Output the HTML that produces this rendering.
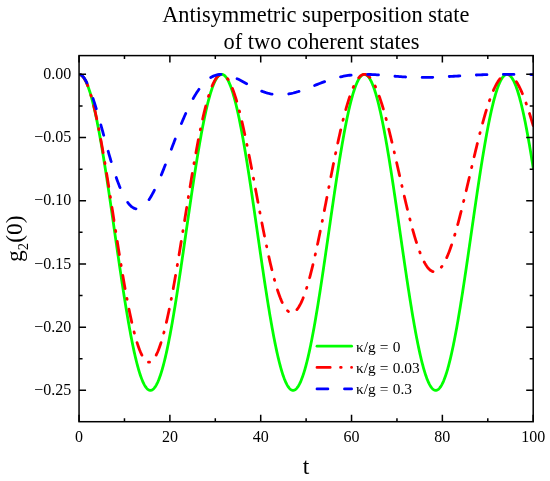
<!DOCTYPE html>
<html><head><meta charset="utf-8"><title>Antisymmetric superposition state of two coherent states</title>
<style>html,body{margin:0;padding:0;background:#fff;}body{width:550px;height:481px;overflow:hidden;}svg{display:block;}</style>
</head><body>
<svg width="550" height="481" viewBox="0 0 550 481" font-family="'Liberation Serif', 'Times New Roman', serif" fill="#000"><clipPath id="c"><rect x="79.05" y="55.6" width="454.15" height="366.10"/></clipPath>
<g clip-path="url(#c)" fill="none" stroke-width="2.8" stroke-linejoin="round" stroke-linecap="round">
<polyline stroke="#00ff00" points="79.05,74.35 79.43,74.37 79.81,74.44 80.19,74.55 80.56,74.70 80.94,74.90 81.32,75.14 81.70,75.42 82.08,75.75 82.46,76.12 82.83,76.54 83.21,77.00 83.59,77.50 83.97,78.04 84.35,78.63 84.73,79.26 85.11,79.93 85.48,80.65 85.86,81.41 86.24,82.21 86.62,83.05 87.00,83.93 87.38,84.85 87.75,85.82 88.13,86.82 88.51,87.87 88.89,88.95 89.27,90.08 89.65,91.24 90.03,92.45 90.40,93.69 90.78,94.97 91.16,96.29 91.54,97.65 91.92,99.05 92.30,100.48 92.67,101.95 93.05,103.45 93.43,104.99 93.81,106.57 94.19,108.18 94.57,109.83 94.95,111.50 95.32,113.22 95.70,114.96 96.08,116.74 96.46,118.55 96.84,120.40 97.22,122.27 97.59,124.17 97.97,126.11 98.35,128.07 98.73,130.07 99.11,132.09 99.49,134.14 99.87,136.21 100.24,138.31 100.62,140.44 101.00,142.60 101.38,144.78 101.76,146.98 102.14,149.21 102.51,151.46 102.89,153.73 103.27,156.03 103.65,158.35 104.03,160.68 104.41,163.04 104.79,165.41 105.16,167.81 105.54,170.22 105.92,172.65 106.30,175.10 106.68,177.56 107.06,180.04 107.43,182.53 107.81,185.03 108.19,187.55 108.57,190.09 108.95,192.63 109.33,195.18 109.71,197.75 110.08,200.32 110.46,202.90 110.84,205.50 111.22,208.09 111.60,210.70 111.98,213.31 112.35,215.93 112.73,218.55 113.11,221.17 113.49,223.80 113.87,226.43 114.25,229.06 114.63,231.70 115.00,234.33 115.38,236.96 115.76,239.59 116.14,242.22 116.52,244.85 116.90,247.47 117.27,250.09 117.65,252.71 118.03,255.32 118.41,257.92 118.79,260.51 119.17,263.10 119.55,265.68 119.92,268.25 120.30,270.81 120.68,273.36 121.06,275.89 121.44,278.42 121.82,280.93 122.19,283.43 122.57,285.91 122.95,288.38 123.33,290.84 123.71,293.28 124.09,295.70 124.47,298.10 124.84,300.49 125.22,302.85 125.60,305.20 125.98,307.53 126.36,309.83 126.74,312.12 127.11,314.38 127.49,316.62 127.87,318.83 128.25,321.02 128.63,323.19 129.01,325.33 129.38,327.45 129.76,329.54 130.14,331.60 130.52,333.64 130.90,335.64 131.28,337.62 131.66,339.57 132.03,341.49 132.41,343.38 132.79,345.24 133.17,347.06 133.55,348.86 133.93,350.62 134.30,352.35 134.68,354.05 135.06,355.71 135.44,357.34 135.82,358.93 136.20,360.49 136.58,362.01 136.95,363.50 137.33,364.95 137.71,366.36 138.09,367.74 138.47,369.08 138.85,370.38 139.22,371.64 139.60,372.86 139.98,374.05 140.36,375.19 140.74,376.30 141.12,377.36 141.50,378.39 141.87,379.37 142.25,380.32 142.63,381.22 143.01,382.08 143.39,382.90 143.77,383.68 144.14,384.42 144.52,385.11 144.90,385.76 145.28,386.37 145.66,386.94 146.04,387.46 146.42,387.94 146.79,388.38 147.17,388.77 147.55,389.12 147.93,389.43 148.31,389.69 148.69,389.91 149.06,390.08 149.44,390.21 149.82,390.30 150.20,390.34 150.58,390.34 150.96,390.30 151.34,390.21 151.71,390.08 152.09,389.90 152.47,389.69 152.85,389.42 153.23,389.12 153.61,388.77 153.98,388.37 154.36,387.93 154.74,387.45 155.12,386.93 155.50,386.36 155.88,385.76 156.26,385.10 156.63,384.41 157.01,383.67 157.39,382.90 157.77,382.08 158.15,381.21 158.53,380.31 158.90,379.37 159.28,378.38 159.66,377.36 160.04,376.29 160.42,375.18 160.80,374.04 161.18,372.85 161.55,371.63 161.93,370.37 162.31,369.07 162.69,367.73 163.07,366.35 163.45,364.94 163.82,363.49 164.20,362.00 164.58,360.48 164.96,358.92 165.34,357.32 165.72,355.69 166.10,354.03 166.47,352.34 166.85,350.61 167.23,348.84 167.61,347.05 167.99,345.22 168.37,343.36 168.74,341.47 169.12,339.55 169.50,337.60 169.88,335.63 170.26,333.62 170.64,331.58 171.02,329.52 171.39,327.43 171.77,325.31 172.15,323.17 172.53,321.00 172.91,318.81 173.29,316.60 173.66,314.36 174.04,312.10 174.42,309.81 174.80,307.51 175.18,305.18 175.56,302.83 175.94,300.47 176.31,298.08 176.69,295.68 177.07,293.26 177.45,290.82 177.83,288.36 178.21,285.89 178.58,283.41 178.96,280.91 179.34,278.40 179.72,275.87 180.10,273.33 180.48,270.78 180.86,268.23 181.23,265.66 181.61,263.08 181.99,260.49 182.37,257.89 182.75,255.29 183.13,252.68 183.50,250.07 183.88,247.45 184.26,244.83 184.64,242.20 185.02,239.57 185.40,236.94 185.78,234.31 186.15,231.67 186.53,229.04 186.91,226.41 187.29,223.78 187.67,221.15 188.05,218.53 188.42,215.90 188.80,213.29 189.18,210.68 189.56,208.07 189.94,205.47 190.32,202.88 190.70,200.30 191.07,197.72 191.45,195.16 191.83,192.61 192.21,190.06 192.59,187.53 192.97,185.01 193.34,182.51 193.72,180.02 194.10,177.54 194.48,175.08 194.86,172.63 195.24,170.20 195.62,167.79 195.99,165.39 196.37,163.02 196.75,160.66 197.13,158.32 197.51,156.01 197.89,153.71 198.26,151.44 198.64,149.19 199.02,146.96 199.40,144.76 199.78,142.58 200.16,140.43 200.54,138.30 200.91,136.19 201.29,134.12 201.67,132.07 202.05,130.05 202.43,128.06 202.81,126.09 203.18,124.16 203.56,122.25 203.94,120.38 204.32,118.54 204.70,116.73 205.08,114.95 205.46,113.20 205.83,111.49 206.21,109.81 206.59,108.17 206.97,106.55 207.35,104.98 207.73,103.44 208.10,101.93 208.48,100.47 208.86,99.03 209.24,97.64 209.62,96.28 210.00,94.96 210.38,93.68 210.75,92.44 211.13,91.23 211.51,90.07 211.89,88.94 212.27,87.86 212.65,86.81 213.02,85.81 213.40,84.84 213.78,83.92 214.16,83.04 214.54,82.20 214.92,81.40 215.30,80.64 215.67,79.93 216.05,79.26 216.43,78.63 216.81,78.04 217.19,77.49 217.57,76.99 217.94,76.54 218.32,76.12 218.70,75.75 219.08,75.42 219.46,75.14 219.84,74.90 220.21,74.70 220.59,74.55 220.97,74.44 221.35,74.37 221.73,74.35 222.11,74.37 222.49,74.44 222.86,74.55 223.24,74.70 223.62,74.90 224.00,75.14 224.38,75.43 224.76,75.76 225.13,76.13 225.51,76.54 225.89,77.00 226.27,77.50 226.65,78.05 227.03,78.64 227.41,79.27 227.78,79.94 228.16,80.66 228.54,81.41 228.92,82.21 229.30,83.05 229.68,83.94 230.05,84.86 230.43,85.83 230.81,86.83 231.19,87.88 231.57,88.96 231.95,90.09 232.33,91.25 232.70,92.46 233.08,93.70 233.46,94.99 233.84,96.31 234.22,97.66 234.60,99.06 234.97,100.49 235.35,101.96 235.73,103.47 236.11,105.01 236.49,106.58 236.87,108.19 237.25,109.84 237.62,111.52 238.00,113.23 238.38,114.98 238.76,116.76 239.14,118.57 239.52,120.41 239.89,122.29 240.27,124.19 240.65,126.13 241.03,128.09 241.41,130.08 241.79,132.10 242.17,134.15 242.54,136.23 242.92,138.33 243.30,140.46 243.68,142.62 244.06,144.80 244.44,147.00 244.81,149.23 245.19,151.48 245.57,153.75 245.95,156.05 246.33,158.37 246.71,160.70 247.09,163.06 247.46,165.44 247.84,167.83 248.22,170.24 248.60,172.67 248.98,175.12 249.36,177.58 249.73,180.06 250.11,182.55 250.49,185.06 250.87,187.58 251.25,190.11 251.63,192.65 252.01,195.21 252.38,197.77 252.76,200.34 253.14,202.93 253.52,205.52 253.90,208.12 254.28,210.72 254.65,213.33 255.03,215.95 255.41,218.57 255.79,221.20 256.17,223.83 256.55,226.46 256.93,229.09 257.30,231.72 257.68,234.35 258.06,236.99 258.44,239.62 258.82,242.25 259.20,244.87 259.57,247.50 259.95,250.12 260.33,252.73 260.71,255.34 261.09,257.94 261.47,260.54 261.85,263.12 262.22,265.70 262.60,268.27 262.98,270.83 263.36,273.38 263.74,275.92 264.12,278.44 264.49,280.95 264.87,283.45 265.25,285.94 265.63,288.41 266.01,290.86 266.39,293.30 266.77,295.72 267.14,298.12 267.52,300.51 267.90,302.87 268.28,305.22 268.66,307.55 269.04,309.85 269.41,312.14 269.79,314.40 270.17,316.64 270.55,318.85 270.93,321.04 271.31,323.21 271.69,325.35 272.06,327.47 272.44,329.56 272.82,331.62 273.20,333.65 273.58,335.66 273.96,337.64 274.33,339.59 274.71,341.51 275.09,343.40 275.47,345.25 275.85,347.08 276.23,348.87 276.61,350.64 276.98,352.37 277.36,354.06 277.74,355.72 278.12,357.35 278.50,358.94 278.88,360.50 279.25,362.03 279.63,363.51 280.01,364.96 280.39,366.37 280.77,367.75 281.15,369.09 281.53,370.39 281.90,371.65 282.28,372.87 282.66,374.06 283.04,375.20 283.42,376.31 283.80,377.37 284.17,378.40 284.55,379.38 284.93,380.33 285.31,381.23 285.69,382.09 286.07,382.91 286.45,383.69 286.82,384.42 287.20,385.12 287.58,385.77 287.96,386.38 288.34,386.94 288.72,387.46 289.09,387.94 289.47,388.38 289.85,388.77 290.23,389.12 290.61,389.43 290.99,389.69 291.37,389.91 291.74,390.08 292.12,390.21 292.50,390.30 292.88,390.34 293.26,390.34 293.64,390.30 294.01,390.21 294.39,390.08 294.77,389.90 295.15,389.68 295.53,389.42 295.91,389.11 296.29,388.76 296.66,388.37 297.04,387.93 297.42,387.45 297.80,386.93 298.18,386.36 298.56,385.75 298.93,385.10 299.31,384.40 299.69,383.67 300.07,382.89 300.45,382.07 300.83,381.21 301.21,380.30 301.58,379.36 301.96,378.37 302.34,377.35 302.72,376.28 303.10,375.17 303.48,374.03 303.85,372.84 304.23,371.62 304.61,370.35 304.99,369.05 305.37,367.71 305.75,366.34 306.12,364.92 306.50,363.47 306.88,361.99 307.26,360.46 307.64,358.90 308.02,357.31 308.40,355.68 308.77,354.02 309.15,352.32 309.53,350.59 309.91,348.83 310.29,347.03 310.67,345.20 311.04,343.35 311.42,341.46 311.80,339.54 312.18,337.59 312.56,335.61 312.94,333.60 313.32,331.57 313.69,329.50 314.07,327.41 314.45,325.30 314.83,323.15 315.21,320.99 315.59,318.79 315.96,316.58 316.34,314.34 316.72,312.08 317.10,309.79 317.48,307.48 317.86,305.16 318.24,302.81 318.61,300.44 318.99,298.06 319.37,295.65 319.75,293.23 320.13,290.80 320.51,288.34 320.88,285.87 321.26,283.39 321.64,280.89 322.02,278.37 322.40,275.85 322.78,273.31 323.16,270.76 323.53,268.20 323.91,265.63 324.29,263.05 324.67,260.47 325.05,257.87 325.43,255.27 325.80,252.66 326.18,250.05 326.56,247.43 326.94,244.80 327.32,242.18 327.70,239.55 328.08,236.92 328.45,234.28 328.83,231.65 329.21,229.02 329.59,226.39 329.97,223.75 330.35,221.13 330.72,218.50 331.10,215.88 331.48,213.26 331.86,210.65 332.24,208.05 332.62,205.45 333.00,202.86 333.37,200.28 333.75,197.70 334.13,195.14 334.51,192.58 334.89,190.04 335.27,187.51 335.64,184.99 336.02,182.48 336.40,179.99 336.78,177.52 337.16,175.05 337.54,172.61 337.92,170.18 338.29,167.77 338.67,165.37 339.05,163.00 339.43,160.64 339.81,158.30 340.19,155.99 340.56,153.69 340.94,151.42 341.32,149.17 341.70,146.94 342.08,144.74 342.46,142.56 342.84,140.41 343.21,138.28 343.59,136.17 343.97,134.10 344.35,132.05 344.73,130.03 345.11,128.04 345.48,126.07 345.86,124.14 346.24,122.24 346.62,120.36 347.00,118.52 347.38,116.71 347.76,114.93 348.13,113.19 348.51,111.47 348.89,109.80 349.27,108.15 349.65,106.54 350.03,104.96 350.40,103.42 350.78,101.92 351.16,100.45 351.54,99.02 351.92,97.63 352.30,96.27 352.68,94.95 353.05,93.67 353.43,92.43 353.81,91.22 354.19,90.06 354.57,88.93 354.95,87.85 355.32,86.80 355.70,85.80 356.08,84.84 356.46,83.91 356.84,83.03 357.22,82.19 357.60,81.39 357.97,80.64 358.35,79.92 358.73,79.25 359.11,78.62 359.49,78.03 359.87,77.49 360.24,76.99 360.62,76.53 361.00,76.12 361.38,75.75 361.76,75.42 362.14,75.13 362.52,74.89 362.89,74.70 363.27,74.55 363.65,74.44 364.03,74.37 364.41,74.35 364.79,74.37 365.16,74.44 365.54,74.55 365.92,74.70 366.30,74.90 366.68,75.14 367.06,75.43 367.44,75.76 367.81,76.13 368.19,76.55 368.57,77.01 368.95,77.51 369.33,78.05 369.71,78.64 370.08,79.27 370.46,79.95 370.84,80.66 371.22,81.42 371.60,82.22 371.98,83.06 372.36,83.95 372.73,84.87 373.11,85.83 373.49,86.84 373.87,87.89 374.25,88.97 374.63,90.10 375.00,91.27 375.38,92.47 375.76,93.71 376.14,95.00 376.52,96.32 376.90,97.68 377.28,99.07 377.65,100.50 378.03,101.97 378.41,103.48 378.79,105.02 379.17,106.60 379.55,108.21 379.92,109.85 380.30,111.54 380.68,113.25 381.06,115.00 381.44,116.78 381.82,118.59 382.20,120.43 382.57,122.30 382.95,124.21 383.33,126.14 383.71,128.11 384.09,130.10 384.47,132.12 384.84,134.17 385.22,136.25 385.60,138.35 385.98,140.48 386.36,142.64 386.74,144.82 387.12,147.02 387.49,149.25 387.87,151.50 388.25,153.77 388.63,156.07 389.01,158.39 389.39,160.72 389.76,163.08 390.14,165.46 390.52,167.85 390.90,170.26 391.28,172.69 391.66,175.14 392.04,177.60 392.41,180.08 392.79,182.57 393.17,185.08 393.55,187.60 393.93,190.13 394.31,192.67 394.68,195.23 395.06,197.79 395.44,200.37 395.82,202.95 396.20,205.54 396.58,208.14 396.96,210.75 397.33,213.36 397.71,215.97 398.09,218.60 398.47,221.22 398.85,223.85 399.23,226.48 399.60,229.11 399.98,231.74 400.36,234.38 400.74,237.01 401.12,239.64 401.50,242.27 401.87,244.90 402.25,247.52 402.63,250.14 403.01,252.75 403.39,255.36 403.77,257.96 404.15,260.56 404.52,263.15 404.90,265.72 405.28,268.29 405.66,270.85 406.04,273.40 406.42,275.94 406.79,278.46 407.17,280.98 407.55,283.47 407.93,285.96 408.31,288.43 408.69,290.88 409.07,293.32 409.44,295.74 409.82,298.14 410.20,300.53 410.58,302.89 410.96,305.24 411.34,307.57 411.71,309.87 412.09,312.16 412.47,314.42 412.85,316.66 413.23,318.87 413.61,321.06 413.99,323.23 414.36,325.37 414.74,327.49 415.12,329.58 415.50,331.64 415.88,333.67 416.26,335.68 416.63,337.66 417.01,339.60 417.39,341.52 417.77,343.41 418.15,345.27 418.53,347.10 418.91,348.89 419.28,350.65 419.66,352.38 420.04,354.08 420.42,355.74 420.80,357.37 421.18,358.96 421.55,360.52 421.93,362.04 422.31,363.52 422.69,364.97 423.07,366.39 423.45,367.76 423.83,369.10 424.20,370.40 424.58,371.66 424.96,372.88 425.34,374.07 425.72,375.21 426.10,376.32 426.47,377.38 426.85,378.41 427.23,379.39 427.61,380.33 427.99,381.24 428.37,382.10 428.75,382.92 429.12,383.69 429.50,384.43 429.88,385.12 430.26,385.77 430.64,386.38 431.02,386.95 431.39,387.47 431.77,387.95 432.15,388.38 432.53,388.78 432.91,389.12 433.29,389.43 433.67,389.69 434.04,389.91 434.42,390.08 434.80,390.22 435.18,390.30 435.56,390.34 435.94,390.34 436.31,390.30 436.69,390.21 437.07,390.08 437.45,389.90 437.83,389.68 438.21,389.42 438.59,389.11 438.96,388.76 439.34,388.36 439.72,387.93 440.10,387.45 440.48,386.92 440.86,386.35 441.23,385.74 441.61,385.09 441.99,384.40 442.37,383.66 442.75,382.88 443.13,382.06 443.51,381.20 443.88,380.29 444.26,379.35 444.64,378.36 445.02,377.34 445.40,376.27 445.78,375.16 446.15,374.02 446.53,372.83 446.91,371.61 447.29,370.34 447.67,369.04 448.05,367.70 448.43,366.33 448.80,364.91 449.18,363.46 449.56,361.97 449.94,360.45 450.32,358.89 450.70,357.29 451.07,355.67 451.45,354.00 451.83,352.30 452.21,350.57 452.59,348.81 452.97,347.02 453.35,345.19 453.72,343.33 454.10,341.44 454.48,339.52 454.86,337.57 455.24,335.59 455.62,333.58 455.99,331.55 456.37,329.48 456.75,327.39 457.13,325.28 457.51,323.13 457.89,320.97 458.27,318.77 458.64,316.56 459.02,314.32 459.40,312.06 459.78,309.77 460.16,307.46 460.54,305.14 460.91,302.79 461.29,300.42 461.67,298.04 462.05,295.63 462.43,293.21 462.81,290.77 463.19,288.32 463.56,285.85 463.94,283.36 464.32,280.86 464.70,278.35 465.08,275.83 465.46,273.29 465.83,270.74 466.21,268.18 466.59,265.61 466.97,263.03 467.35,260.44 467.73,257.85 468.11,255.25 468.48,252.64 468.86,250.02 469.24,247.40 469.62,244.78 470.00,242.15 470.38,239.52 470.75,236.89 471.13,234.26 471.51,231.63 471.89,228.99 472.27,226.36 472.65,223.73 473.03,221.10 473.40,218.48 473.78,215.86 474.16,213.24 474.54,210.63 474.92,208.02 475.30,205.43 475.67,202.84 476.05,200.25 476.43,197.68 476.81,195.11 477.19,192.56 477.57,190.02 477.95,187.49 478.32,184.97 478.70,182.46 479.08,179.97 479.46,177.49 479.84,175.03 480.22,172.59 480.59,170.16 480.97,167.74 481.35,165.35 481.73,162.98 482.11,160.62 482.49,158.28 482.87,155.97 483.24,153.67 483.62,151.40 484.00,149.15 484.38,146.92 484.76,144.72 485.14,142.54 485.51,140.39 485.89,138.26 486.27,136.16 486.65,134.08 487.03,132.03 487.41,130.01 487.79,128.02 488.16,126.06 488.54,124.12 488.92,122.22 489.30,120.35 489.68,118.51 490.06,116.70 490.43,114.92 490.81,113.17 491.19,111.46 491.57,109.78 491.95,108.14 492.33,106.53 492.70,104.95 493.08,103.41 493.46,101.91 493.84,100.44 494.22,99.01 494.60,97.61 494.98,96.26 495.35,94.94 495.73,93.66 496.11,92.42 496.49,91.21 496.87,90.05 497.25,88.92 497.62,87.84 498.00,86.80 498.38,85.79 498.76,84.83 499.14,83.91 499.52,83.02 499.90,82.18 500.27,81.39 500.65,80.63 501.03,79.92 501.41,79.24 501.79,78.62 502.17,78.03 502.54,77.49 502.92,76.99 503.30,76.53 503.68,76.11 504.06,75.74 504.44,75.42 504.82,75.13 505.19,74.89 505.57,74.70 505.95,74.54 506.33,74.44 506.71,74.37 507.09,74.35 507.46,74.37 507.84,74.44 508.22,74.55 508.60,74.71 508.98,74.90 509.36,75.15 509.74,75.43 510.11,75.76 510.49,76.13 510.87,76.55 511.25,77.01 511.63,77.51 512.01,78.06 512.38,78.65 512.76,79.28 513.14,79.95 513.52,80.67 513.90,81.43 514.28,82.23 514.66,83.07 515.03,83.95 515.41,84.88 515.79,85.84 516.17,86.85 516.55,87.90 516.93,88.98 517.30,90.11 517.68,91.28 518.06,92.48 518.44,93.73 518.82,95.01 519.20,96.33 519.58,97.69 519.95,99.08 520.33,100.52 520.71,101.99 521.09,103.49 521.47,105.03 521.85,106.61 522.22,108.22 522.60,109.87 522.98,111.55 523.36,113.26 523.74,115.01 524.12,116.79 524.50,118.60 524.87,120.45 525.25,122.32 525.63,124.23 526.01,126.16 526.39,128.13 526.77,130.12 527.14,132.14 527.52,134.19 527.90,136.27 528.28,138.37 528.66,140.50 529.04,142.66 529.42,144.84 529.79,147.04 530.17,149.27 530.55,151.52 530.93,153.79 531.31,156.09 531.69,158.41 532.06,160.74 532.44,163.10 532.82,165.48 533.20,167.87"/>
<path stroke="#ff0000" d="M80.50 74.67L81.77 75.48L82.91 76.62L83.89 77.91L84.73 79.23L85.48 80.60L86.17 81.97L86.85 83.48L87.45 84.92L87.73 85.62M90.91 95.10L91.23 96.18M93.76 105.73L94.11 107.19L94.49 108.78L94.87 110.40L95.25 112.06L95.63 113.74L96.00 115.45L96.38 117.20L96.75 118.89M98.72 128.57L98.93 129.67M100.77 139.38L101.08 141.06L101.38 142.73L101.68 144.41L101.98 146.11L102.29 147.82L102.59 149.54L102.89 151.27L103.13 152.67M104.81 162.53L104.98 163.51M106.60 173.38L106.90 175.26L107.21 177.14L107.51 179.02L107.81 180.91L108.12 182.80L108.42 184.71L108.72 186.59M110.27 196.47L110.43 197.45M111.97 207.34L112.20 208.86L112.51 210.81L112.81 212.76L113.11 214.71L113.41 216.67L113.72 218.62L114.02 220.57L114.04 220.68M115.55 230.44L115.73 231.55M117.25 241.30L117.50 242.88L117.80 244.80L118.11 246.71L118.41 248.62L118.71 250.52L119.02 252.41L119.32 254.30L119.37 254.64M120.98 264.51L121.14 265.50M122.79 275.36L123.10 277.21L123.41 278.98L123.71 280.73L124.01 282.48L124.31 284.21L124.62 285.93L124.92 287.64L125.08 288.54M126.88 298.37L127.07 299.36M128.98 309.17L129.31 310.80L129.61 312.27L129.99 314.09L130.37 315.88L130.75 317.65L131.13 319.38L131.50 321.09L131.79 322.38M134.10 331.98L134.38 333.07M137.07 342.57L137.56 344.12L138.09 345.72L138.62 347.26L139.15 348.72L139.75 350.30L140.36 351.79L140.97 353.18L141.65 354.62L141.91 355.16M148.45 362.14L149.57 362.15M156.20 355.09L156.86 353.73L157.54 352.21L158.15 350.76L158.75 349.23L159.28 347.80L159.81 346.31L160.34 344.75L160.87 343.12L161.03 342.63M163.78 333.02L164.03 332.05M166.40 322.33L166.78 320.68L167.16 319.00L167.53 317.28L167.91 315.54L168.29 313.78L168.67 311.98L169.05 310.17L169.26 309.14M171.18 299.45L171.40 298.35M173.21 288.64L173.51 286.99L173.82 285.32L174.12 283.63L174.42 281.94L174.72 280.23L175.03 278.51L175.33 276.78L175.58 275.35M177.25 265.61L177.44 264.50M179.06 254.76L179.34 253.07L179.64 251.24L179.95 249.39L180.25 247.54L180.55 245.69L180.86 243.83L181.16 241.96L181.24 241.44M182.84 231.57L183.00 230.58M184.58 220.71L184.87 218.93L185.17 217.04L185.47 215.16L185.78 213.27L186.08 211.39L186.38 209.50L186.68 207.62L186.72 207.38M188.30 197.63L188.48 196.52M190.08 186.77L190.39 184.85L190.70 183.03L191.00 181.21L191.30 179.39L191.60 177.59L191.91 175.79L192.21 173.99L192.30 173.45M193.97 163.72L194.17 162.61M195.90 152.89L196.22 151.11L196.52 149.46L196.83 147.82L197.13 146.20L197.43 144.58L197.73 142.98L198.04 141.39L198.34 139.81L198.38 139.62M200.33 129.81L200.53 128.83M202.63 119.06L203.03 117.29L203.41 115.64L203.79 114.02L204.17 112.43L204.55 110.86L204.93 109.33L205.30 107.82L205.68 106.34L205.76 106.05M208.46 96.42L208.80 95.35M212.11 86.05L212.72 84.62L213.40 83.14L214.08 81.76L214.84 80.37L215.67 79.01L216.58 77.72L217.57 76.55L218.70 75.51L219.49 74.98M227.57 78.63L228.19 79.57M232.45 88.47L233.01 89.94L233.54 91.39L234.07 92.90L234.60 94.47L235.13 96.09L235.58 97.53L236.03 99.01L236.49 100.53L236.71 101.28M239.34 110.92L239.59 111.89M241.95 121.61L242.32 123.22L242.70 124.87L243.07 126.55L243.45 128.25L243.83 129.96L244.21 131.69L244.59 133.44L244.85 134.67M246.89 144.46L247.09 145.44M249.05 155.24L249.36 156.78L249.66 158.33L249.96 159.88L250.26 161.44L250.57 163.01L250.87 164.58L251.17 166.16L251.48 167.74L251.62 168.50M253.46 178.20L253.67 179.31M255.49 189.01L255.79 190.62L256.09 192.23L256.40 193.85L256.70 195.47L257.00 197.09L257.30 198.70L257.61 200.31L257.91 201.93L257.98 202.28M259.81 211.99L260.02 213.09M261.90 222.91L262.22 224.57L262.53 226.13L262.83 227.67L263.13 229.21L263.43 230.75L263.74 232.27L264.04 233.79L264.34 235.31L264.49 236.04M266.50 245.83L266.71 246.81M268.82 256.59L269.19 258.25L269.57 259.93L269.94 261.59L270.32 263.22L270.70 264.84L271.08 266.44L271.46 268.02L271.84 269.57L271.88 269.74M274.34 279.30L274.64 280.38M277.45 289.85L277.97 291.45L278.50 293.02L279.03 294.53L279.56 295.99L280.16 297.59L280.77 299.11L281.37 300.56L282.06 302.09L282.23 302.47M287.54 310.74L288.39 311.47M296.91 309.62L297.87 308.37L298.78 307.00L299.62 305.59L300.37 304.18L301.05 302.80L301.73 301.33L302.34 299.94L302.95 298.48L303.23 297.75M306.54 288.32L306.84 287.36M309.62 277.76L310.06 276.11L310.52 274.38L310.89 272.93L311.27 271.44L311.65 269.94L312.03 268.42L312.41 266.88L312.79 265.32L312.94 264.67M315.17 255.05L315.42 253.95M317.52 244.30L317.86 242.71L318.24 240.91L318.61 239.10L318.99 237.28L319.37 235.45L319.67 233.98L319.98 232.50L320.26 231.09M322.21 221.40L322.43 220.30M324.33 210.61L324.67 208.89L324.97 207.34L325.27 205.78L325.58 204.23L325.88 202.67L326.18 201.11L326.49 199.54L326.79 197.98L326.91 197.36M328.81 187.54L329.00 186.56M330.92 176.74L331.25 175.02L331.56 173.49L331.86 171.95L332.16 170.42L332.47 168.89L332.77 167.37L333.07 165.85L333.37 164.34L333.54 163.50M335.51 153.82L335.74 152.72M337.78 143.06L338.14 141.37L338.52 139.63L338.90 137.91L339.28 136.20L339.66 134.51L340.03 132.83L340.41 131.17L340.71 129.88M343.01 120.27L343.28 119.18M345.79 109.63L346.24 107.99L346.70 106.40L347.15 104.84L347.60 103.31L348.06 101.81L348.51 100.35L349.04 98.70L349.57 97.09L349.70 96.71M353.24 87.36L353.65 86.45M358.66 77.82L359.71 76.66L360.85 75.68L362.14 74.89L363.57 74.42L365.09 74.40L366.60 74.86L367.97 75.68L369.18 76.72L369.84 77.43M375.06 85.92L375.54 86.94M379.19 96.11L379.70 97.55L380.23 99.10L380.76 100.69L381.29 102.33L381.74 103.76L382.20 105.22L382.65 106.71L383.10 108.23L383.32 108.96M385.99 118.47L386.28 119.56M388.75 129.12L389.16 130.76L389.54 132.28L389.92 133.82L390.29 135.37L390.67 136.94L391.05 138.51L391.43 140.09L391.81 141.68L391.94 142.24M394.22 151.98L394.44 152.95M396.67 162.70L397.03 164.30L397.41 165.97L397.79 167.64L398.17 169.32L398.54 170.99L398.92 172.67L399.30 174.34L399.62 175.75M401.83 185.50L402.06 186.47M404.30 196.22L404.68 197.81L405.05 199.42L405.43 201.03L405.81 202.62L406.19 204.21L406.57 205.79L406.95 207.36L407.32 208.91L407.43 209.35M409.83 218.93L410.11 220.02M412.66 229.56L413.08 231.06L413.53 232.66L413.99 234.24L414.44 235.79L414.89 237.32L415.35 238.81L415.80 240.29L416.26 241.73L416.50 242.50M419.74 251.83L420.14 252.88M424.21 262.01L424.96 263.38L425.79 264.78L426.63 266.06L427.53 267.32L428.52 268.51L429.58 269.58L430.79 270.55L432.15 271.31L433.04 271.61M441.35 267.18L441.94 266.37M446.72 257.61L447.37 256.14L447.97 254.70L448.58 253.20L449.18 251.64L449.71 250.24L450.24 248.79L450.77 247.30L451.30 245.77L451.60 244.89M454.66 235.24L454.98 234.16M457.70 224.54L458.11 223.02L458.57 221.32L459.02 219.61L459.48 217.88L459.85 216.42L460.23 214.95L460.61 213.47L460.99 211.99L461.15 211.36M463.58 201.53L463.85 200.43M466.18 190.71L466.59 188.97L466.97 187.37L467.35 185.76L467.73 184.16L468.11 182.54L468.48 180.93L468.86 179.32L469.24 177.70L469.30 177.44M471.61 167.59L471.86 166.49M474.16 156.76L474.54 155.17L474.92 153.58L475.30 152.01L475.67 150.43L476.05 148.87L476.43 147.31L476.81 145.75L477.19 144.21L477.36 143.51M479.82 133.69L480.07 132.72M482.64 123.06L483.09 121.40L483.55 119.77L484.00 118.16L484.45 116.57L484.91 115.00L485.36 113.46L485.82 111.94L486.27 110.44L486.34 110.20M489.44 100.70L489.81 99.63M493.40 90.43L494.07 88.93L494.75 87.47L495.43 86.08L496.19 84.62L496.94 83.26L497.78 81.86L498.61 80.59L499.52 79.33L500.01 78.71M508.36 74.49L509.43 74.83M516.36 81.66L517.23 83.06L517.99 84.37L518.74 85.76L519.50 87.24L520.18 88.64L520.86 90.10L521.54 91.63L522.15 93.03L522.43 93.71M526.01 103.04L526.34 103.99M529.49 113.48L530.02 115.15L530.48 116.61L530.93 118.08L531.38 119.57L531.84 121.08L532.29 122.60L532.75 124.13L533.20 125.68"/>
<path stroke="#0000ff" d="M80.39 74.62L81.70 75.39L82.83 76.43L83.82 77.61L84.73 78.91L85.56 80.27L86.32 81.64L86.95 82.89M93.03 98.48L93.51 99.92L94.04 101.57L94.49 103.01L94.95 104.47L95.40 105.95L95.85 107.45L96.24 108.74M100.84 124.85L101.30 126.51L101.76 128.16L102.21 129.81L102.67 131.46L103.12 133.11L103.57 134.76L103.70 135.21M108.15 151.23L108.57 152.71L109.02 154.30L109.48 155.87L109.93 157.43L110.39 158.98L110.84 160.52L111.19 161.68M116.25 177.51L116.74 178.93L117.27 180.41L117.80 181.86L118.33 183.28L118.94 184.87L119.55 186.41L120.02 187.58M127.72 202.41L128.63 203.61L129.61 204.77L130.67 205.85L131.81 206.83L133.09 207.72L134.46 208.38L135.97 208.80L136.02 208.81M149.01 199.64L149.90 198.27L150.73 196.92L151.56 195.51L152.32 194.16L153.08 192.77L153.83 191.33L154.41 190.20M161.29 174.94L161.93 173.38L162.54 171.89L163.14 170.39L163.75 168.88L164.35 167.35L164.96 165.82L165.34 164.84M171.34 149.21L171.92 147.68L172.53 146.09L173.13 144.50L173.74 142.92L174.35 141.34L174.95 139.76L175.23 139.05M181.42 123.49L182.07 121.94L182.67 120.51L183.28 119.09L183.88 117.68L184.49 116.29L185.17 114.75L185.73 113.50M193.19 98.51L193.95 97.18L194.78 95.76L195.62 94.38L196.45 93.05L197.28 91.77L198.19 90.42L198.97 89.30M210.74 77.53L212.04 76.79L213.40 76.13L214.84 75.55L216.28 75.09L217.79 74.73L219.31 74.49L220.82 74.37L221.01 74.36M237.04 78.64L238.46 79.34L239.82 80.04L241.18 80.75L242.54 81.49L243.91 82.23L245.27 82.98L246.63 83.73L246.64 83.74M261.65 91.14L263.06 91.68L264.49 92.18L265.93 92.64L267.45 93.08L268.96 93.47L270.47 93.81L271.99 94.10L272.09 94.12M288.76 93.96L290.23 93.68L291.74 93.36L293.26 93.00L294.77 92.60L296.29 92.18L297.72 91.75L299.04 91.33M314.60 85.48L316.04 84.91L317.48 84.34L318.92 83.78L320.36 83.22L321.79 82.67L323.23 82.13L324.63 81.62M340.55 76.86L342.08 76.53L343.59 76.23L345.11 75.95L346.62 75.69L348.13 75.46L349.65 75.25L351.15 75.07M367.74 74.39L369.25 74.43L370.77 74.48L372.28 74.55L373.79 74.62L375.31 74.71L376.82 74.80L378.33 74.90L378.48 74.91M394.93 76.24L396.43 76.35L397.94 76.47L399.45 76.58L400.97 76.69L402.48 76.79L403.99 76.88L405.51 76.97L405.65 76.98M422.14 77.45L423.67 77.45L425.19 77.44L426.70 77.42L428.22 77.40L429.73 77.37L431.24 77.33L432.76 77.29L432.77 77.29M449.25 76.52L450.77 76.43L452.29 76.34L453.80 76.25L455.31 76.16L456.83 76.07L458.34 75.98L459.85 75.88L459.86 75.88M476.33 75.00L477.87 74.94L479.38 74.87L480.90 74.81L482.41 74.76L483.92 74.71L485.44 74.66L486.95 74.62M503.32 74.36L504.89 74.35L506.41 74.35L507.92 74.35L509.43 74.35L510.95 74.36L512.46 74.36L513.95 74.37M530.70 74.55L532.22 74.57L533.20 74.58"/>
</g>
<path d="M79.05 421.7v-7M79.05 55.6v7M124.47 421.7v-3.5M124.47 55.6v3.5M169.88 421.7v-7M169.88 55.6v7M215.30 421.7v-3.5M215.30 55.6v3.5M260.71 421.7v-7M260.71 55.6v7M306.12 421.7v-3.5M306.12 55.6v3.5M351.54 421.7v-7M351.54 55.6v7M396.96 421.7v-3.5M396.96 55.6v3.5M442.37 421.7v-7M442.37 55.6v7M487.79 421.7v-3.5M487.79 55.6v3.5M533.20 421.7v-7M533.20 55.6v7M79.05 74.35h7M533.2 74.35h-7M79.05 105.95h3.5M533.2 105.95h-3.5M79.05 137.55h7M533.2 137.55h-7M79.05 169.15h3.5M533.2 169.15h-3.5M79.05 200.75h7M533.2 200.75h-7M79.05 232.35h3.5M533.2 232.35h-3.5M79.05 263.95h7M533.2 263.95h-7M79.05 295.55h3.5M533.2 295.55h-3.5M79.05 327.15h7M533.2 327.15h-7M79.05 358.75h3.5M533.2 358.75h-3.5M79.05 390.35h7M533.2 390.35h-7" stroke="#000" stroke-width="1.5" fill="none"/>
<rect x="79.05" y="55.6" width="454.15" height="366.10" fill="none" stroke="#000" stroke-width="1.5"/>
<g font-size="16"><text x="79.05" y="441.8" text-anchor="middle">0</text><text x="169.88" y="441.8" text-anchor="middle">20</text><text x="260.71" y="441.8" text-anchor="middle">40</text><text x="351.54" y="441.8" text-anchor="middle">60</text><text x="442.37" y="441.8" text-anchor="middle">80</text><text x="533.20" y="441.8" text-anchor="middle">100</text><text x="71.2" y="78.95" text-anchor="end">0.00</text><text x="71.2" y="142.15" text-anchor="end">−0.05</text><text x="71.2" y="205.35" text-anchor="end">−0.10</text><text x="71.2" y="268.55" text-anchor="end">−0.15</text><text x="71.2" y="331.75" text-anchor="end">−0.20</text><text x="71.2" y="394.95" text-anchor="end">−0.25</text></g>
<text x="306.1" y="474.4" text-anchor="middle" font-size="23.5">t</text>
<text transform="translate(22 238.7) rotate(-90)" text-anchor="middle" font-size="23.5">g<tspan font-size="14.6" dy="6">2</tspan><tspan dy="-6">(0)</tspan></text>
<text x="315.75" y="21.6" text-anchor="middle" font-size="22.4">Antisymmetric superposition state</text>
<text x="321.5" y="49.1" text-anchor="middle" font-size="22.4">of two coherent states</text>
<line x1="317.0" y1="346.2" x2="351.6" y2="346.2" stroke="#00ff00" stroke-width="2.8" stroke-linecap="round"/><text x="356.0" y="351.7" font-size="15.4" word-spacing="0.3">κ/g = 0</text><line x1="317.0" y1="367.4" x2="351.6" y2="367.4" stroke="#ff0000" stroke-width="2.8" stroke-linecap="round" stroke-dasharray="13.2 10.35 0.65 10.35"/><text x="356.0" y="372.9" font-size="15.4" word-spacing="0.3">κ/g = 0.03</text><line x1="317.0" y1="388.9" x2="351.6" y2="388.9" stroke="#0000ff" stroke-width="2.8" stroke-linecap="round" stroke-dasharray="10.9 16.6"/><text x="356.0" y="394.4" font-size="15.4" word-spacing="0.3">κ/g = 0.3</text></svg>
</body></html>
